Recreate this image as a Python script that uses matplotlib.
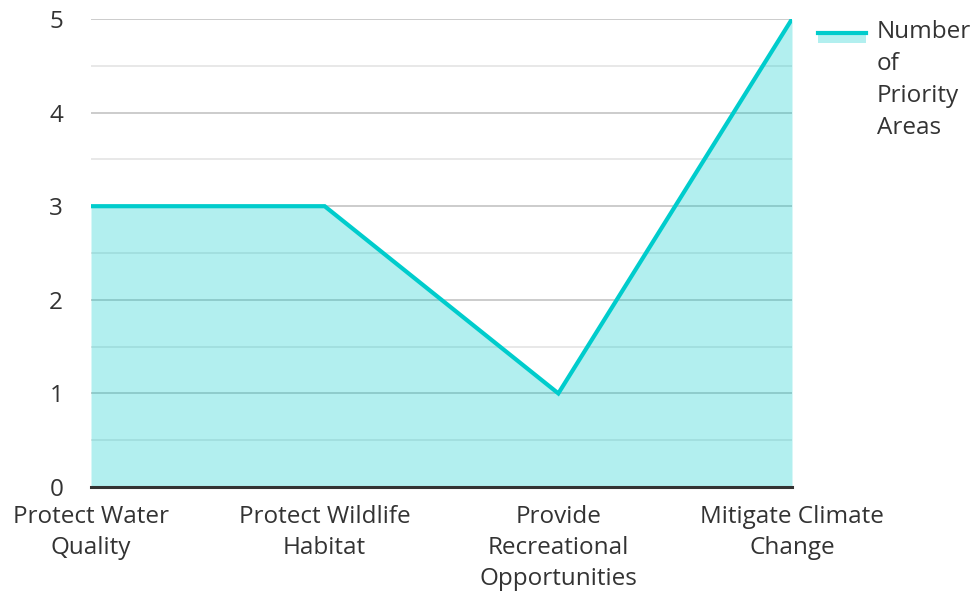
import matplotlib
matplotlib.use("Agg")
import matplotlib.pyplot as plt
from matplotlib.lines import Line2D
from matplotlib.patches import Rectangle

categories = ["Protect Water\nQuality", "Protect Wildlife\nHabitat",
              "Provide\nRecreational\nOpportunities", "Mitigate Climate\nChange"]
values = [3, 3, 1, 5]
series_name = ["Number", "of", "Priority", "Areas"]

plt.rcParams['font.family'] = ['Open Sans', 'DejaVu Sans']
txt = '#333333'
line_c = '#00cccc'
fs = 17.5

fig = plt.figure(figsize=(9.76, 5.93), dpi=100)
ax = fig.add_axes([91/976, 106/593, (792-91)/976, (487-19)/593])
x = list(range(len(categories)))

ax.set_xlim(0, 3)
ax.set_ylim(0, 5)
ax.set_yticks([0, 1, 2, 3, 4, 5])
ax.set_yticks([0.5, 1.5, 2.5, 3.5, 4.5], minor=True)
ax.grid(True, which='major', axis='y', color='#c8c8c8', linewidth=1.3)
ax.grid(True, which='minor', axis='y', color='#e6e6e6', linewidth=1.3)
ax.set_axisbelow(True)

ax.fill_between(x, values, 0, color=line_c, alpha=0.3, linewidth=0, zorder=1)
ax.plot(x, values, color=line_c, linewidth=3, zorder=3, solid_joinstyle='miter')

for s in ['top', 'right', 'left']:
    ax.spines[s].set_visible(False)
ax.spines['bottom'].set_color(txt)
ax.spines['bottom'].set_linewidth(2.2)
ax.spines['bottom'].set_zorder(4)

ax.set_xticks(x)
ax.set_xticklabels(categories, fontsize=fs, color=txt, linespacing=1.38)
ax.tick_params(axis='both', which='both', length=0)
ax.tick_params(axis='x', pad=13)
ax.tick_params(axis='y', pad=20, labelsize=fs, labelcolor=txt)
for lab in ax.get_xticklabels():
    lab.set_ha('center')

# legend
fig.add_artist(Rectangle((818/976, 1-43/593), 48/976, 11/593, transform=fig.transFigure,
                         facecolor=line_c, alpha=0.3, edgecolor='none'))
fig.add_artist(Line2D([818/976, 866/976], [1-32.5/593, 1-32.5/593], transform=fig.transFigure,
                      color=line_c, linewidth=3))
for i, w in enumerate(series_name):
    fig.text(877/976, 1-(32 + 32*i)/593, w, fontsize=fs, color=txt, va='center', ha='left')

fig.savefig("out.png", dpi=100)
